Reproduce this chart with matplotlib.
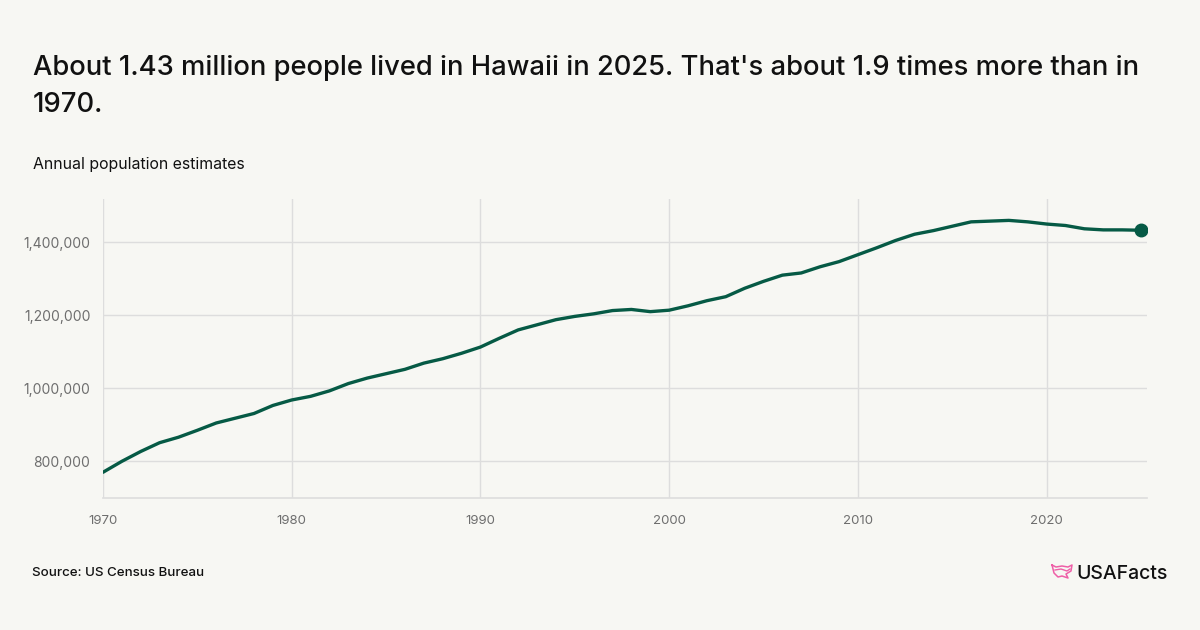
"""
Hawaii annual population estimates, 1970-2025 (USAFacts style line chart).
"""

import matplotlib.pyplot as plt
from matplotlib.ticker import FuncFormatter

BG = "#f7f7f3"
LINE = "#065a45"
GRID = "#dddddd"
TICK = "#6e6e6e"
PINK = "#ee5fa7"

years = list(range(1970, 2026))
population = [
    770000, 800000, 827000, 851000, 866000, 885000, 905000, 918000, 931000, 953000,
    968000, 978000, 993000, 1013000, 1028000, 1040000, 1052000, 1069000, 1081000, 1096000,
    1113000, 1137000, 1160000, 1174000, 1188000, 1197000, 1204000, 1213000, 1216000, 1210000,
    1214000, 1226000, 1240000, 1251000, 1274000, 1293000, 1310000, 1316000, 1333000, 1347000,
    1366000, 1385000, 1405000, 1422000, 1432000, 1444000, 1456000, 1458000, 1460000, 1456000,
    1450000, 1446000, 1437000, 1434000, 1434000, 1433000,
]
x_ticks = [1970, 1980, 1990, 2000, 2010, 2020]
y_ticks = [800000, 1000000, 1200000, 1400000]

plt.rcParams["font.family"] = ["Inter", "DejaVu Sans"]

fig = plt.figure(figsize=(12, 6.3), dpi=100, facecolor=BG)
ax = fig.add_axes((103 / 1200, 1 - 498 / 630, 1044 / 1200, 299 / 630))
ax.set_facecolor(BG)

ax.plot(years, population, color=LINE, linewidth=2.4, solid_capstyle="round", zorder=3)
ax.plot(years[-1], population[-1], "o", color=LINE, markersize=9, zorder=4)

ax.set_xlim(1970, 2025.32)
ax.set_ylim(699500, 1518600)
ax.set_xticks(x_ticks)
ax.set_yticks(y_ticks)
ax.yaxis.set_major_formatter(FuncFormatter(lambda v, _: f"{int(v):,}"))
ax.grid(True, color=GRID, linewidth=1)
ax.set_axisbelow(True)
for side in ("top", "right", "left"):
    ax.spines[side].set_visible(False)
ax.spines["bottom"].set_color(GRID)
ax.spines["bottom"].set_linewidth(1.2)
ax.tick_params(length=0, colors=TICK, labelsize=10)
ax.tick_params(axis="y", pad=9)
ax.tick_params(axis="x", pad=12, labelsize=9.5)

fig.text(33 / 1200, 1 - 75 / 630,
         "About 1.43 million people lived in Hawaii in 2025. That's about 1.9 times more than in",
         fontsize=19.7, fontweight="medium", color="#111111", va="baseline")
fig.text(33 / 1200, 1 - 111.7 / 630, "1970.",
         fontsize=19.7, fontweight="medium", color="#111111", va="baseline")
fig.text(33 / 1200, 1 - 168.7 / 630, "Annual population estimates",
         fontsize=11.4, color="#111111", va="baseline")
fig.text(32 / 1200, 1 - 576 / 630, "Source: US Census Bureau",
         fontsize=9.6, fontweight="medium", color="#111111", va="baseline")
fig.text(1168 / 1200, 1 - 579 / 630, "USAFacts",
         fontsize=14, fontweight="medium", color="#111111", va="baseline", ha="right")

# small outline of the logo's map icon
icon_x = [1052, 1056, 1062, 1068, 1072, 1071, 1066, 1068, 1062, 1058, 1054, 1052]
icon_y = [565, 567, 566, 567, 565, 571, 574, 578, 576, 577, 573, 565]
fig.add_artist(plt.Line2D([x / 1200 for x in icon_x], [1 - y / 630 for y in icon_y],
                          color=PINK, linewidth=1.1, transform=fig.transFigure))
fig.add_artist(plt.Line2D([1055 / 1200, 1061 / 1200, 1067 / 1200, 1070 / 1200],
                          [1 - 570 / 630, 1 - 569 / 630, 1 - 571 / 630, 1 - 569 / 630],
                          color=PINK, linewidth=1.0, transform=fig.transFigure))

fig.savefig("out.png", dpi=100, facecolor=BG)
